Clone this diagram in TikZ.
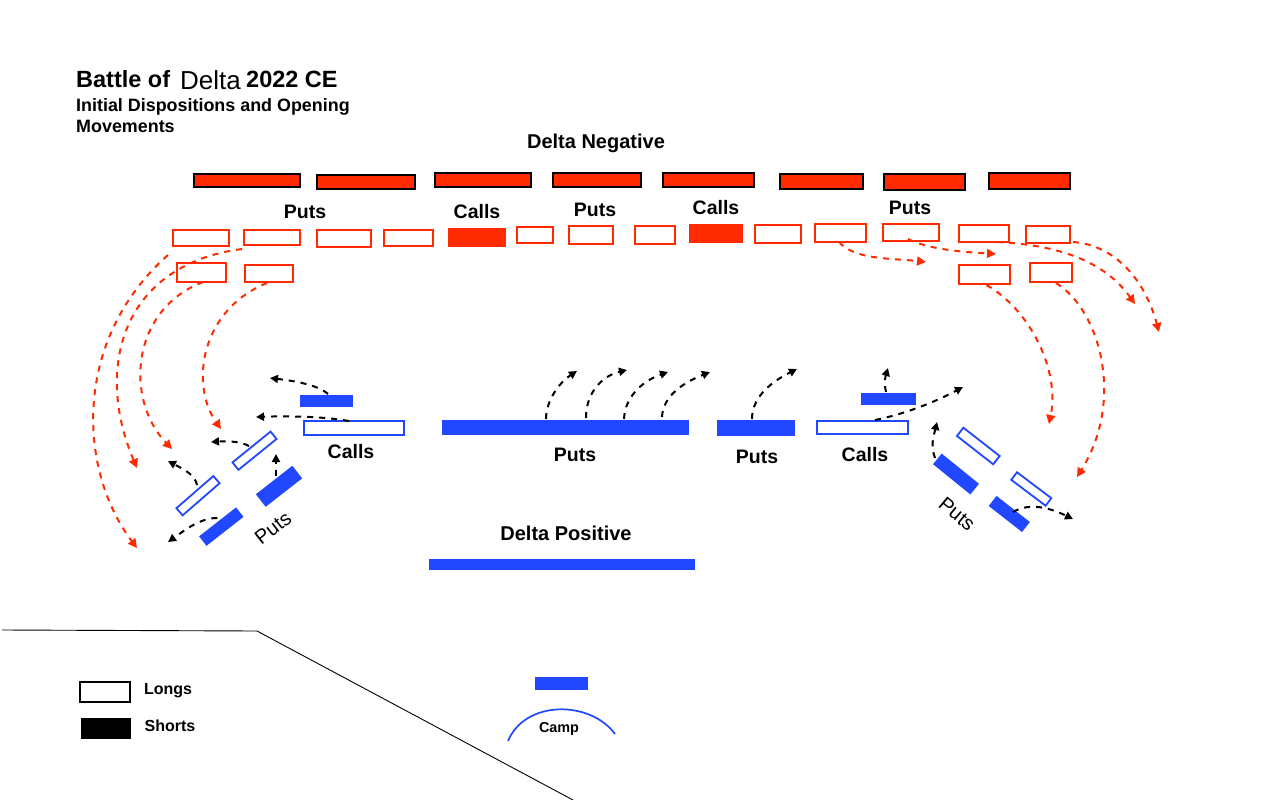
\documentclass[tikz,border=0pt]{standalone}
\usepackage{fontspec}
\setmainfont{Liberation Sans}
\usetikzlibrary{arrows.meta}
\definecolor{rd}{HTML}{FF2A00}
\definecolor{bl}{HTML}{2148FF}
\tikzset{
  base/.style={rectangle,inner sep=0pt,outer sep=0pt},
  topbar/.style={base,fill=rd,draw=black,line width=2.2pt},
  redopen/.style={base,fill=white,draw=rd,line width=2pt},
  redfill/.style={base,fill=rd},
  blueopen/.style={base,fill=white,draw=bl,line width=1.8pt},
  bluefill/.style={base,fill=bl},
  redmove/.style={rd,line width=2pt,dash pattern=on 6pt off 6pt,-{Stealth[length=9pt,width=9pt,inset=0pt]}},
  blackmove/.style={black,line width=2pt,dash pattern=on 6pt off 6pt,-{Stealth[length=8pt,width=8pt,inset=0pt]}},
  lab/.style={font=\fontsize{19.5}{21}\bfseries\selectfont,inner sep=0pt},
  title/.style={anchor=base west,inner sep=0pt,font=\fontsize{18}{20}\bfseries\selectfont},
  tilted/.style={font=\fontsize{20}{21}\selectfont,inner sep=0pt}
}
\newcommand{\bx}[6]{\node[#1,minimum width={(#5-#3)*1pt},minimum height={(#6-#4)*1pt}] (#2) at ({(#3+#5)/2},{(#4+#6)/2}) {};}
\newcommand{\rbx}[7]{\node[#1,minimum width=#5pt,minimum height=#6pt,rotate=#7] (#2) at (#3,#4) {};}
\begin{document}
\begin{tikzpicture}[x=1pt,y=-1pt]
\useasboundingbox (0,0) rectangle (1280,800);
% title
\node[title,font=\fontsize{23.5}{24}\bfseries\selectfont] (t1) at (76,88) {Battle of};
\node[title,font=\fontsize{26}{28}\selectfont] (t2) at (180,89) {Delta};
\node[title,font=\fontsize{23.5}{24}\bfseries\selectfont] (t3) at (246,88) {2022 CE};
\node[title,font=\fontsize{17.9}{20}\bfseries\selectfont] (t4) at (76,111) {Initial Dispositions and Opening};
\node[title,font=\fontsize{17.9}{20}\bfseries\selectfont] (t5) at (76,132) {Movements};
\node[lab,font=\fontsize{20}{21}\bfseries\selectfont] (neg) at (596,143) {Delta Negative};
% top row
\bx{topbar}{a1}{194}{174}{300}{187}
\bx{topbar}{a2}{317}{175}{415}{189}
\bx{topbar}{a3}{435}{173}{531}{187}
\bx{topbar}{a4}{553}{173}{641}{187}
\bx{topbar}{a5}{663}{173}{754}{187}
\bx{topbar}{a6}{780}{174}{863}{189}
\bx{topbar}{a7}{884}{174}{965}{190}
\bx{topbar}{a8}{989}{173}{1070}{189}
% second row
\bx{redopen}{ra}{173}{230}{229}{246}
\bx{redopen}{rb}{244}{230}{300}{245}
\bx{redopen}{rc}{317}{230}{371}{247}
\bx{redopen}{rd1}{384}{230}{433}{246}
\bx{redfill}{re}{448}{228}{506}{247}
\bx{redopen}{rf}{517}{227}{553}{243}
\bx{redopen}{rg}{569}{226}{613}{244}
\bx{redopen}{rh}{635}{226}{675}{244}
\bx{redfill}{ri}{689}{224}{743}{243}
\bx{redopen}{rj}{755}{225}{801}{243}
\bx{redopen}{rk}{815}{224}{866}{242}
\bx{redopen}{rl}{883}{224}{939}{241}
\bx{redopen}{rm}{959}{225}{1009}{242}
\bx{redopen}{rn}{1026}{226}{1070}{243}
% third row
\bx{redopen}{sa}{177}{263}{226}{282}
\bx{redopen}{sb}{245}{265}{293}{282}
\bx{redopen}{sc}{959}{265}{1010}{284}
\bx{redopen}{sd}{1030}{263}{1072}{282}
% red labels
\node[lab] (l1) at (305,212) {Puts};
\node[lab] (l2) at (477,212) {Calls};
\node[lab] (l3) at (595,210) {Puts};
\node[lab] (l4) at (716,208) {Calls};
\node[lab] (l5) at (910,208) {Puts};
% blue
\bx{bluefill}{b1}{300}{395}{353}{407}
\bx{blueopen}{b2}{304}{421}{404}{435}
\bx{bluefill}{b3}{442}{420}{689}{435}
\bx{bluefill}{b4}{717}{420}{795}{436}
\bx{blueopen}{b5}{817}{421}{908}{434}
\bx{bluefill}{b6}{861}{393}{916}{405}
\bx{bluefill}{b7}{429}{559}{695}{570}
\bx{bluefill}{b8}{535}{677}{588}{690}
\rbx{blueopen}{oa}{254.5}{450.7}{49}{9.5}{39}
\rbx{blueopen}{ob}{198}{495.7}{49}{9.5}{41}
\rbx{bluefill}{fc}{279}{486.3}{46.3}{15.9}{38}
\rbx{bluefill}{fd}{221.3}{526.6}{47}{12}{38}
\rbx{blueopen}{oe}{978.3}{446}{46}{10.5}{-38}
\rbx{blueopen}{of}{1031.3}{489}{43}{9.5}{-37}
\rbx{bluefill}{fg}{956}{474}{48}{13.7}{-39}
\rbx{bluefill}{fh}{1009.3}{514}{42.3}{12.7}{-38}
% blue labels
\node[lab] (m1) at (351,452) {Calls};
\node[lab] (m2) at (575,455) {Puts};
\node[lab] (m3) at (757,457) {Puts};
\node[lab] (m4) at (865,455) {Calls};
\node[tilted,rotate=38] (m5) at (273,528) {Puts};
\node[tilted,rotate=-40] (m6) at (957,514) {Puts};
\node[lab,font=\fontsize{20}{21}\bfseries\selectfont] (pos) at (566,533) {Delta Positive};
% red movements
\draw[redmove] ([shift={(-5,9)}]ra.south west) .. controls (72,340) and (78,470) .. (137,548);
\draw[redmove] ([shift={(-2,4)}]rb.south west) .. controls (120,265) and (95,370) .. (137,468);
\draw[redmove] ([shift={(1.5,0)}]sa.south) .. controls (130,310) and (125,400) .. (172,449);
\draw[redmove] ([shift={(-2,1)}]sb.south) .. controls (200,310) and (190,385) .. (221,429);
\draw[redmove] ([shift={(-1.5,0)}]rk.south) .. controls (855,260) and (890,258) .. (926,262);
\draw[redmove] ([shift={(-3,-2)}]rl.south) .. controls (930,250) and (965,252) .. (996,254);
\draw[redmove] ([shift={(13,0)}]rm.south) .. controls (1060,245) and (1105,262) .. (1135,304);
\draw[redmove] ([shift={(3,-1)}]rn.south east) .. controls (1115,245) and (1145,280) .. (1159,332);
\draw[redmove] ([shift={(2,1)}]sc.south) .. controls (1030,310) and (1060,370) .. (1049,424);
\draw[redmove] ([shift={(5,1)}]sd.south) .. controls (1100,310) and (1125,400) .. (1077,477);
% black movements
\draw[blackmove] ([shift={(1.5,-1)}]b1.north) .. controls (318,385) and (295,381) .. (270,378);
\draw[blackmove] ([shift={(-5,0)}]b2.north) .. controls (320,416) and (285,416) .. (256,417);
\draw[blackmove] ([shift={(-5.5,-4.7)}]oa.center) .. controls (240,441) and (225,441) .. (211,442);
\draw[blackmove] ([shift={(-3,-10)}]fc.center) -- (276,454);
\draw[blackmove] ([shift={(-1,-10.7)}]ob.center) .. controls (195,475) and (185,470) .. (168,461);
\draw[blackmove] ([shift={(-4,-8.6)}]fd.center) .. controls (200,518) and (185,530) .. (168,542);
\draw[blackmove] ([shift={(104,-1)}]b3.north west) .. controls (546,400) and (560,382) .. (577,371);
\draw[blackmove] ([shift={(144,-2)}]b3.north west) .. controls (586,390) and (605,375) .. (627,370);
\draw[blackmove] ([shift={(182,-1)}]b3.north west) .. controls (625,395) and (645,380) .. (668,372);
\draw[blackmove] ([shift={(220,-3)}]b3.north west) .. controls (663,395) and (685,382) .. (710,372);
\draw[blackmove] ([shift={(-4,-1)}]b4.north) .. controls (752,395) and (775,380) .. (797,369);
\draw[blackmove] ([shift={(-2.5,-1)}]b6.north) .. controls (884,385) and (885,378) .. (888,368);
\draw[blackmove] ([shift={(12.5,-1)}]b5.north) .. controls (905,414) and (935,402) .. (963,387);
\draw[blackmove] ([shift={(-21,-16)}]fg.center) .. controls (930,445) and (934,435) .. (937,422);
\draw[blackmove] ([shift={(3.7,-2)}]fh.center) .. controls (1030,502) and (1050,508) .. (1073,519);
% ground line
\draw[black,line width=0.9pt] (2,630) -- (257,631) -- (573,800);
% camp
\draw[bl,line width=1.7pt] (508,741) .. controls (525,700) and (590,700) .. (615,734);
\node[font=\fontsize{14.4}{15}\bfseries\selectfont,inner sep=0pt] (camp) at (559,729) {Camp};
% legend
\bx{base,draw=black,line width=2.8pt,fill=white}{k1}{80}{682}{130}{702}
\bx{base,fill=black}{k2}{81}{718}{131}{739}
\node[font=\fontsize{16}{17}\bfseries\selectfont,inner sep=0pt] (k1t) at (168,691) {Longs};
\node[font=\fontsize{16}{17}\bfseries\selectfont,inner sep=0pt] (k2t) at (170,726) {Shorts};
\end{tikzpicture}
\end{document}
